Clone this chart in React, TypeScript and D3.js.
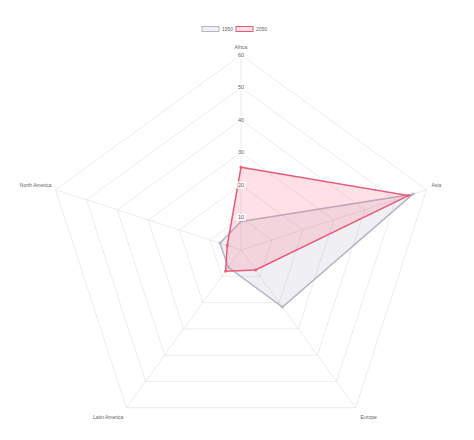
import { useEffect, useRef } from 'react';
import * as d3 from 'd3';

const regions = ['Africa', 'Asia', 'Europe', 'Latin America', 'North America'];
const values1950 = [8.77, 55.61, 21.69, 6.62, 6.82];
const values2050 = [25.48, 54.16, 7.61, 8.06, 4.45];
const ticks = [10, 20, 30, 40, 50, 60];
const seriesNames = ['1950', '2050'];

const series = [
  { name: seriesNames[0], values: values1950, stroke: 'rgba(179,181,198,1)', fill: 'rgba(179,181,198,0.2)' },
  { name: seriesNames[1], values: values2050, stroke: 'rgba(230,90,120,1)', fill: 'rgba(255,99,132,0.2)' },
];

export default function App() {
  const svgRef = useRef<SVGSVGElement>(null);

  useEffect(() => {
    if (!svgRef.current) return;
    const svg = d3.select(svgRef.current);
    svg.selectAll('*').remove();

    const width = 474;
    const height = 440;
    const cx = 241;
    const cy = 250;
    const radius = 195;
    const font = 'Helvetica, Arial, "Liberation Sans", sans-serif';

    // Radial scale
    const r = d3.scaleLinear().domain([0, 60]).range([0, radius]);
    const angle = d3
      .scaleLinear()
      .domain([0, regions.length])
      .range([0, 2 * Math.PI]);

    const point = (i: number, v: number): [number, number] => {
      const a = angle(i) - Math.PI / 2;
      return [cx + r(v) * Math.cos(a), cy + r(v) * Math.sin(a)];
    };

    svg.attr('width', width).attr('height', height);
    svg.append('rect').attr('width', width).attr('height', height).attr('fill', '#fff');

    const g = svg.append('g');

    // Grid rings
    ticks.forEach((t) => {
      const pts = regions.map((_, i) => point(i, t));
      g.append('polygon')
        .attr('points', pts.map((p) => p.join(',')).join(' '))
        .attr('fill', 'none')
        .attr('stroke', 'rgba(0,0,0,0.08)')
        .attr('stroke-width', 1);
    });

    // Angle lines
    regions.forEach((_, i) => {
      const [x, y] = point(i, 60);
      g.append('line')
        .attr('x1', cx)
        .attr('y1', cy)
        .attr('x2', x)
        .attr('y2', y)
        .attr('stroke', 'rgba(0,0,0,0.08)')
        .attr('stroke-width', 1);
    });

    // Datasets
    const line = d3
      .line<number>()
      .x((d, i) => point(i, d)[0])
      .y((d, i) => point(i, d)[1])
      .curve(d3.curveLinearClosed);

    series.forEach((s) => {
      g.append('path')
        .datum(s.values)
        .attr('d', line)
        .attr('fill', s.fill)
        .attr('stroke', s.stroke)
        .attr('stroke-width', 1.5)
        .attr('stroke-linejoin', 'miter');
    });

    series.forEach((s) => {
      g.selectAll(null)
        .data(s.values)
        .enter()
        .append('circle')
        .attr('cx', (d, i) => point(i, d)[0])
        .attr('cy', (d, i) => point(i, d)[1])
        .attr('r', 1.2)
        .attr('fill', s.fill)
        .attr('stroke', s.stroke)
        .attr('stroke-width', 0.8);
    });

    // Tick labels with backdrop
    ticks.forEach((t) => {
      const y = cy - r(t);
      g.append('rect')
        .attr('x', cx - 5)
        .attr('y', y - 3.5)
        .attr('width', 10)
        .attr('height', 7)
        .attr('fill', 'rgba(255,255,255,0.75)');
      g.append('text')
        .attr('x', cx)
        .attr('y', y)
        .attr('dy', '0.35em')
        .attr('text-anchor', 'middle')
        .attr('font-family', font)
        .attr('font-size', 5.5)
        .attr('fill', '#666')
        .text(t);
    });

    // Point labels
    const labelPos: [number, number, string][] = [
      [cx, cy - radius - 8, 'middle'],
      [point(1, 60)[0] + 5, point(1, 60)[1] - 4, 'start'],
      [point(2, 60)[0] + 5, point(2, 60)[1] + 9, 'start'],
      [point(3, 60)[0] - 3, point(3, 60)[1] + 9, 'end'],
      [point(4, 60)[0] - 4, point(4, 60)[1] - 4, 'end'],
    ];
    regions.forEach((name, i) => {
      const [x, y, anchor] = labelPos[i];
      g.append('text')
        .attr('x', x)
        .attr('y', y)
        .attr('dy', '0.35em')
        .attr('text-anchor', anchor)
        .attr('font-family', font)
        .attr('font-size', 5)
        .attr('fill', '#666')
        .text(name);
    });

    // Legend
    const legend = svg.append('g').attr('transform', 'translate(202,29)');
    series.forEach((s, i) => {
      const lx = i * 34;
      legend
        .append('rect')
        .attr('x', lx)
        .attr('y', -2.5)
        .attr('width', 17)
        .attr('height', 5)
        .attr('fill', s.fill)
        .attr('stroke', s.stroke)
        .attr('stroke-width', 1);
      legend
        .append('text')
        .attr('x', lx + 20)
        .attr('y', 0)
        .attr('dy', '0.35em')
        .attr('font-family', font)
        .attr('font-size', 5)
        .attr('fill', '#666')
        .text(s.name);
    });
  }, []);

  return (
    <div style={{ position: 'absolute', left: 0, top: 0 }}>
      <svg ref={svgRef}></svg>
    </div>
  );
}
